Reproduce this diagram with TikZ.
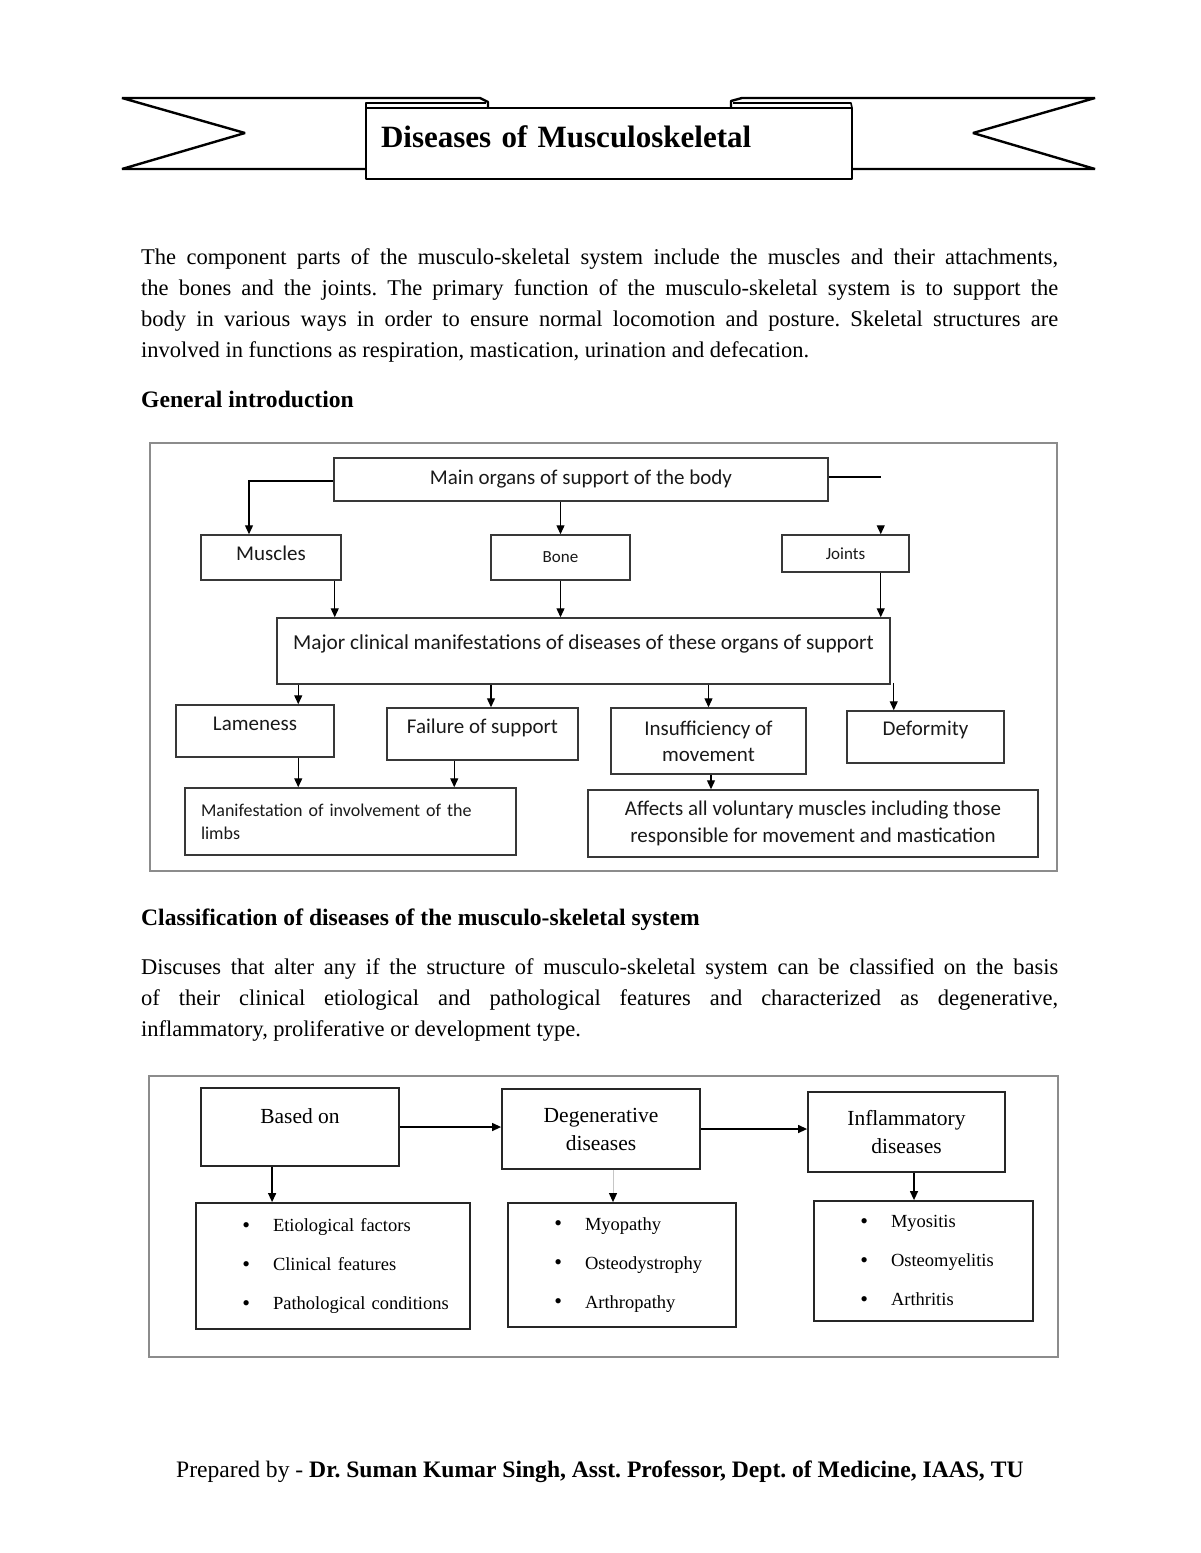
\documentclass[tikz,border=0pt]{standalone}
\usepackage{fontspec}
\setmainfont{Liberation Serif}
\newfontfamily\calibri{Carlito}
\usetikzlibrary{arrows.meta}
\definecolor{frame-gray}{gray}{0.55}
\definecolor{box-gray}{gray}{0.22}
\tikzstyle{organbox}=[draw=box-gray,line width=1.5pt,inner sep=0pt,align=center,text=black!90,font=\calibri\fontsize{21}{26}\selectfont]
\tikzstyle{classbox}=[draw=black!85,line width=1.8pt,inner sep=0pt,align=center,font=\fontsize{21.5}{28}\selectfont]
\tikzstyle{listbox}=[classbox,inner xsep=0pt,align=left,font=\fontsize{18.5}{39}\selectfont]
\tikzstyle{arr}=[line width=1.3pt,-{Triangle[width=8pt,length=9pt]}]
\tikzset{lift/.style={text height=14pt,text depth=#1}}
\newcommand{\bitem}[1]{\hspace*{46.3pt}\makebox[30.7pt][l]{\raisebox{-0.5pt}{\fontsize{22}{22}\selectfont\textbullet}}#1}
\newcommand{\bodyfont}{\fontsize{22.5}{31}\selectfont}
\newcommand{\headfont}{\fontsize{23.6}{31}\selectfont\bfseries}
\frenchspacing

\begin{document}
\begin{tikzpicture}[x=1pt,y=-1pt]
\useasboundingbox (0,0) rectangle (1200,1553);
	% banner with the title
	\begin{scope}[line width=2.4pt,line join=bevel]
	\draw (366,169) -- (122,169) -- (245,133) -- (122,98) -- (480,98) -- (488,102) -- (488,108);
	\draw (852,169) -- (1095,169) -- (973,133) -- (1095,98) -- (742,98) -- (731,101) -- (731,108);
	\draw[line width=1.6pt] (366,108) -- (366,103) -- (486,103);
	\draw[line width=1.6pt] (733,103) -- (851,103) -- (852,108);
	\node[draw,fill=white,inner xsep=15pt,inner ysep=0pt,text width=456pt,align=left,minimum height=71pt,text height=21pt,text depth=14pt,font=\bfseries\fontsize{31}{36}\selectfont] (title) at (609,143.5) {Diseases of Musculoskeletal};
	\end{scope}
	% text of the page
	\node[anchor=north west,inner sep=0pt,text width=917pt,align=justify,font=\bodyfont] (intro) at (141,248.6) {The component parts of the musculo-skeletal system include the muscles and their attachments,\linebreak the bones and the joints. The primary function of the musculo-skeletal system is to support the\linebreak body in various ways in order to ensure normal locomotion and posture. Skeletal structures are\linebreak involved in functions as respiration, mastication, urination and defecation.};
	\node[anchor=base west,inner sep=0pt,font=\headfont] (genintro) at (141,407) {General introduction};
	\node[anchor=base west,inner sep=0pt,font=\headfont] (classhead) at (141,925) {Classification of diseases of the musculo-skeletal system};
	\node[anchor=north west,inner sep=0pt,text width=917pt,align=justify,font=\bodyfont] (classtext) at (141,958.6) {Discuses that alter any if the structure of musculo-skeletal system can be classified on the basis\linebreak of their clinical etiological and pathological features and characterized as degenerative,\linebreak inflammatory, proliferative or development type.};
	\node[anchor=base west,inner sep=0pt,font=\fontsize{23.6}{31}\selectfont] (footer) at (176,1477) {Prepared by - \textbf{Dr. Suman Kumar Singh, Asst. Professor, Dept. of Medicine, IAAS, TU}};
	% first chart: organs of support
	\begin{scope}
	\draw[frame-gray,line width=1.8pt] (150,443) rectangle (1057,871);
	\node[organbox,minimum width=494pt,minimum height=43pt] (main) at (581,479.5) {Main organs of support of the body};
	\node[organbox,minimum width=140pt,minimum height=45pt,lift=9pt] (muscles) at (271,557.5) {Muscles};
	\node[organbox,minimum width=139pt,minimum height=45pt,font=\calibri\fontsize{17}{20}\selectfont] (bone) at (560.5,557.5) {Bone};
	\node[organbox,minimum width=127pt,minimum height=37pt,font=\calibri\fontsize{17}{20}\selectfont] (joints) at (845.5,553.5) {Joints};
	\node[organbox,minimum width=613pt,minimum height=66pt,lift=17pt,font=\calibri\fontsize{21.3}{26}\selectfont] (major) at (583.5,651) {Major clinical manifestations of diseases of these organs of support};
	\node[organbox,minimum width=158pt,minimum height=52pt,lift=15pt] (lameness) at (255,731) {Lameness};
	\node[organbox,minimum width=191pt,minimum height=52pt,lift=15pt] (failure) at (482.5,734) {Failure of support};
	\node[organbox,minimum width=195pt,minimum height=66pt] (insuff) at (708.5,741) {Insufficiency of\\movement};
	\node[organbox,minimum width=157pt,minimum height=52pt,lift=17pt] (deform) at (925.5,737) {Deformity};
	\node[organbox,minimum height=67pt,text width=299pt,inner xsep=16pt,align=left,font=\calibri\fontsize{18}{23}\selectfont] (limbs) at (350.5,821.5) {Manifestation of involvement of the\\limbs};
	\node[organbox,minimum width=450pt,minimum height=67pt,font=\calibri\fontsize{21}{27}\selectfont] (affects) at (813,823.5) {Affects all voluntary muscles including those\\responsible for movement and mastication};
	% connectors
	\draw[arr] ([yshift=-1.5pt]main.west) -| ([xshift=-22pt]muscles.north);
	\draw[arr] (bone.north |- main.south) -- (bone.north);
	\draw[line width=1.3pt] ([yshift=2.5pt]main.east) -- ++(52,0) coordinate (dangle);
	\coordinate (jtip) at (dangle |- joints.north);
	\draw[arr] ([yshift=8pt]jtip) -- (jtip);
	\coordinate (m1) at ([xshift=-7pt]muscles.south east);
	\draw[arr] (m1) -- (m1 |- major.north);
	\draw[arr] (bone.south) -- (bone.south |- major.north);
	\draw[arr] (dangle |- joints.south) -- (dangle |- major.north);
	\coordinate (l1) at ([xshift=22pt]major.south west);
	\draw[arr] (l1) -- (l1 |- lameness.north);
	\coordinate (f1) at ([xshift=8.5pt]failure.north);
	\draw[arr] (f1 |- major.south) -- (f1);
	\draw[arr] (insuff.north |- major.south) -- (insuff.north);
	\coordinate (d1) at ([xshift=3pt]major.south east);
	\draw[arr] ([yshift=2pt]d1) -- (d1 |- deform.north);
	\draw[arr] (l1 |- lameness.south) -- (l1 |- limbs.north);
	\coordinate (f2) at ([xshift=68pt]failure.south west);
	\draw[arr] (f2) -- (f2 |- limbs.north);
	\draw[arr] ([xshift=2.5pt]insuff.south) -- ([xshift=2.5pt]insuff.south |- affects.north);
	\end{scope}
	% second chart: classification
	\begin{scope}
	\draw[frame-gray,line width=2pt] (149,1076) rectangle (1058,1357);
	\node[classbox,minimum width=198pt,minimum height=78pt,text height=14pt,text depth=22pt] (based) at (300,1127) {Based on};
	\node[classbox,minimum width=198pt,minimum height=80pt] (degen) at (601,1129) {Degenerative\\diseases};
	\node[classbox,minimum width=197pt,minimum height=80pt] (inflam) at (906.5,1132) {Inflammatory\\diseases};
	\node[listbox,text width=274pt,minimum height=126pt] (etio) at (333,1266) {\bitem{Etiological factors}\\\bitem{Clinical features}\\\bitem{Pathological conditions}};
	\node[listbox,text width=228pt,minimum height=124pt] (degenlist) at (622,1265) {\bitem{Myopathy}\\\bitem{Osteodystrophy}\\\bitem{Arthropathy}};
	\node[listbox,text width=219pt,minimum height=120pt] (inflamlist) at (923.5,1261) {\bitem{Myositis}\\\bitem{Osteomyelitis}\\\bitem{Arthritis}};
	% connectors
	\draw[arr] (based.east) -- (based.east -| degen.west);
	\draw[arr] (degen.east) -- (degen.east -| inflam.west);
	\coordinate (b1) at ([xshift=72pt]based.south west);
	\draw[arr] (b1) -- (b1 |- etio.north);
	\coordinate (g1) at ([xshift=12pt]degen.south);
	\draw[line width=1pt,draw=gray!45,-{Triangle[width=8pt,length=9pt,color=black]}] (g1) -- (g1 |- degenlist.north);
	\coordinate (i1) at ([xshift=7.5pt]inflam.south);
	\draw[arr] (i1) -- (i1 |- inflamlist.north);
	\end{scope}
\end{tikzpicture}
\end{document}
